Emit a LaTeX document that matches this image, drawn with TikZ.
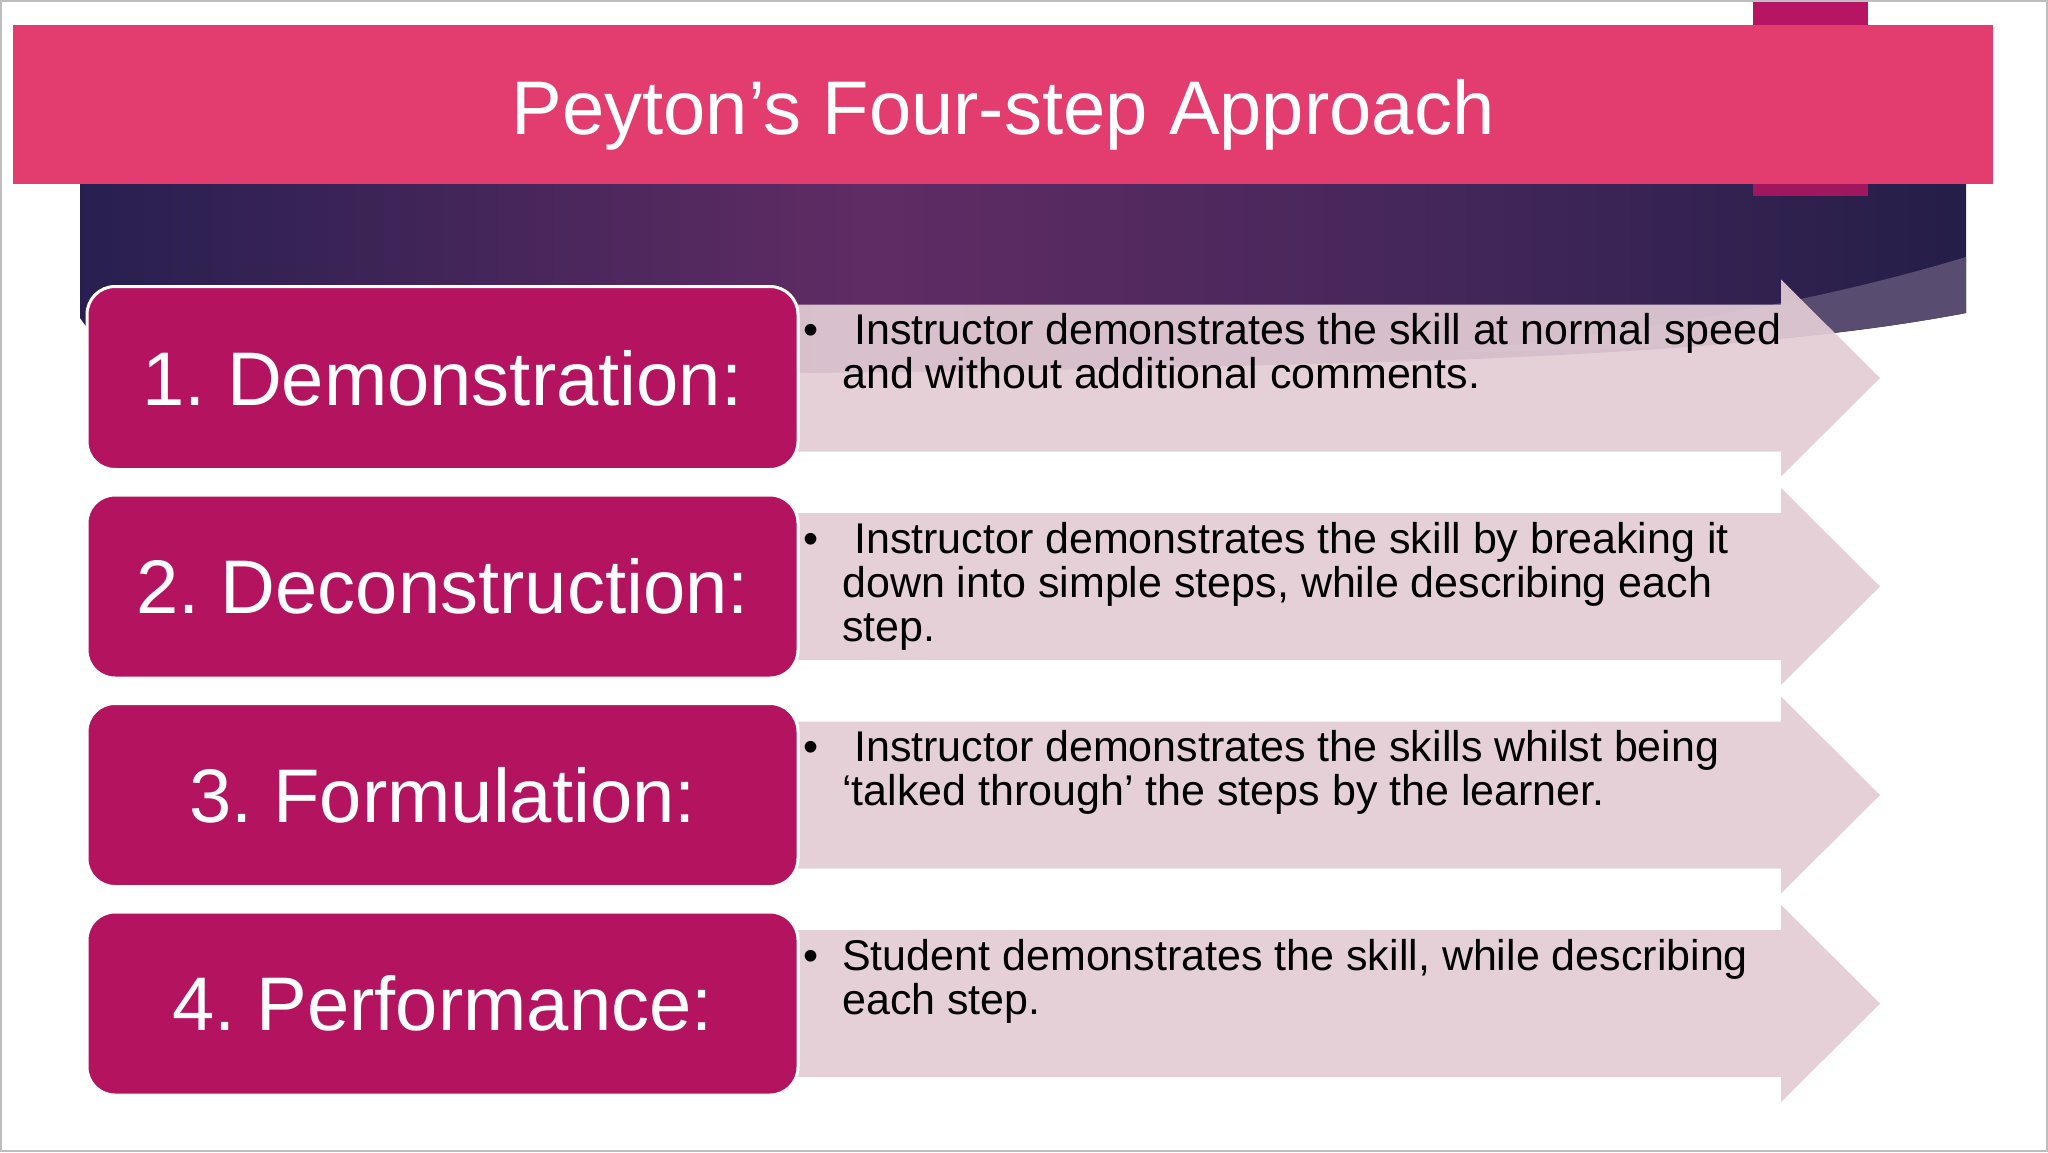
\documentclass[tikz,border=0pt]{standalone}
\usepackage{fontspec}
\setmainfont{Liberation Sans}
\frenchspacing
\definecolor{titlepink}{RGB}{226,61,110}
\definecolor{boxmag}{RGB}{180,19,96}
\definecolor{tabmag}{RGB}{184,20,100}
\definecolor{tabdark}{RGB}{160,22,95}
\definecolor{arrowpink}{RGB}{227,205,213}
\definecolor{bandA}{RGB}{40,31,80}
\definecolor{bandB}{RGB}{96,44,100}
\definecolor{bandC}{RGB}{66,38,90}
\definecolor{bandD}{RGB}{36,30,72}
\definecolor{swooshcol}{RGB}{88,76,112}
\definecolor{framegray}{RGB}{190,190,190}
\pgfdeclarehorizontalshading{bandshade}{100bp}{color(0bp)=(bandA); color(25bp)=(bandA); color(46bp)=(bandB); color(62bp)=(bandC); color(75bp)=(bandD); color(100bp)=(bandD)}
\newcommand{\bulletrow}[1]{\parbox[t]{1100pt}{\noindent\makebox[38.5pt][l]{\textbullet}\hangindent=38.5pt\hangafter=1 #1}}
\tikzset{
  stepbox/.style={fill=boxmag, draw=white, line width=3pt, rounded corners=28pt,
    minimum width=711pt, minimum height=183pt, text=white, inner sep=0pt,
    font=\fontsize{76}{80}\selectfont, text height=54pt, text depth=0pt},
  bodytext/.style={anchor=base west, inner sep=0pt, text=black,
    font=\fontsize{43}{44}\selectfont},
  titletext/.style={anchor=base, inner sep=0pt, text=white,
    font=\fontsize{76}{80}\selectfont},
  arrowfill/.style={fill=arrowpink, fill opacity=0.92}
}
\begin{document}
\begin{tikzpicture}[x=1pt,y=-1pt]
\useasboundingbox (0,0) rectangle (2048,1152);
\fill[white] (0,0) rectangle (2048,1152);
% dark band
\shade[shading=bandshade] (80,184) -- (1966,184) -- (1966,313)
  .. controls (1850,335) and (1700,350) .. (1450,360)
  .. controls (1200,368) and (950,372) .. (800,373) -- (120,373) -- (80,318) -- cycle;
% swoosh
\fill[swooshcol] (1966,257) .. controls (1850,292) and (1700,325) .. (1450,352)
  .. controls (1700,350) and (1850,335) .. (1966,313) -- cycle;
% tab
\fill[tabmag] (1753,0) rectangle (1868,30);
\fill[tabdark] (1753,180) rectangle (1868,196);
% title bar
\node[fill=titlepink, minimum width=1980pt, minimum height=159pt, inner sep=0pt] (titlebar) at (1003,104.5) {};
\node[titletext] (title) at (1003,134) {Peyton’s Four-step Approach};
% arrows
\foreach \c in {378,586.5,795,1003.5}
  \fill[arrowfill] (795,\c-73.5) -- (1781,\c-73.5) -- (1781,\c-98.5) -- (1880,\c)
    -- (1781,\c+98.5) -- (1781,\c+73.5) -- (795,\c+73.5) -- cycle;
% boxes
\node[stepbox] (b1) at (442.5,378) {1. Demonstration:};
\node[stepbox] (b2) at (442.5,586.5) {2. Deconstruction:};
\node[stepbox] (b3) at (442.5,795) {3. Formulation:};
\node[stepbox] (b4) at (442.5,1003.5) {4. Performance:};
% texts
\node[bodytext] (t1) at (803.5,344.5) {\bulletrow{\ Instructor demonstrates the skill at normal speed\\and without additional comments.}};
\node[bodytext] (t2) at (803.5,553) {\bulletrow{\ Instructor demonstrates the skill by breaking it\\down into simple steps, while describing each\\step.}};
\node[bodytext] (t3) at (803.5,761.5) {\bulletrow{\ Instructor demonstrates the skills whilst being\\‘talked through’ the steps by the learner.}};
\node[bodytext] (t4) at (803.5,970) {\bulletrow{Student demonstrates the skill, while describing\\each step.}};
% frame
\draw[framegray, line width=2pt] (1,1) rectangle (2047,1151);
\end{tikzpicture}
\end{document}
